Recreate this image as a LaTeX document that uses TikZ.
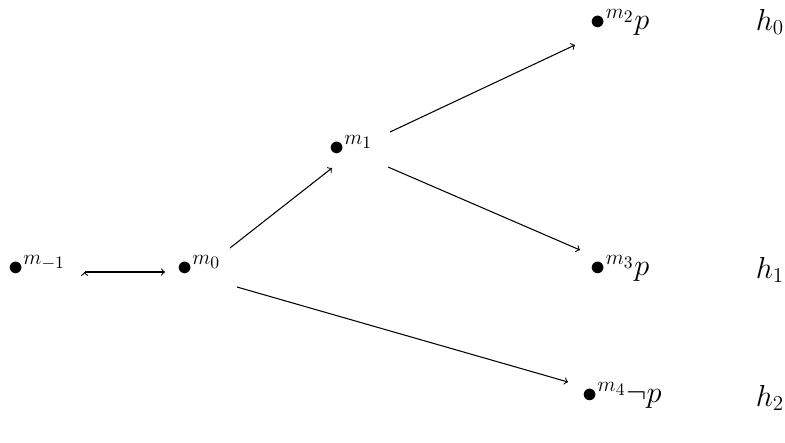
\documentclass[tikz,border=0pt]{standalone}
\begin{document}
\begin{tikzpicture}[x=0.02cm,y=-0.02cm,font=\LARGE,
  pt/.style={inner sep=6pt},
  arr/.style={->,thick,>=stealth'}]
\useasboundingbox (0,0) rectangle (785,443);
\node[pt] (a) at (37,265) {$\bullet^{m_{-1}}$};
\node[pt] (b) at (199,265) {$\bullet^{m_0}$};
\node[pt] (c) at (351,145) {$\bullet^{m_1}$};
\node[pt] (d) at (620,22) {$\bullet^{m_2}p$};
\node[pt] (e) at (620,268) {$\bullet^{m_3}p$};
\node[pt] (f) at (622,395) {$\bullet^{m_4}\neg p$};
\node (h0) at (770,22) {$h_0$};
\node (h1) at (770,270) {$h_1$};
\node (h2) at (770,398) {$h_2$};
\draw[->,semithick] (a.east|-0,272) ++(8,0) coordinate (a1);
\coordinate (a2) at (165,272);
\draw[->,semithick] (a1) -- (a2);
\coordinate (b1) at (230,248); \coordinate (c1) at (332,168);
\draw[->,semithick] (b1) -- (c1);
\coordinate (c2) at (390,132); \coordinate (d1) at (575,45);
\draw[->,semithick] (c2) -- (d1);
\coordinate (c3) at (388,167); \coordinate (e1) at (580,250);
\draw[->,semithick] (c3) -- (e1);
\coordinate (b2) at (237,287); \coordinate (f1) at (568,382);
\draw[->,semithick] (b2) -- (f1);
\end{tikzpicture}
\end{document}
